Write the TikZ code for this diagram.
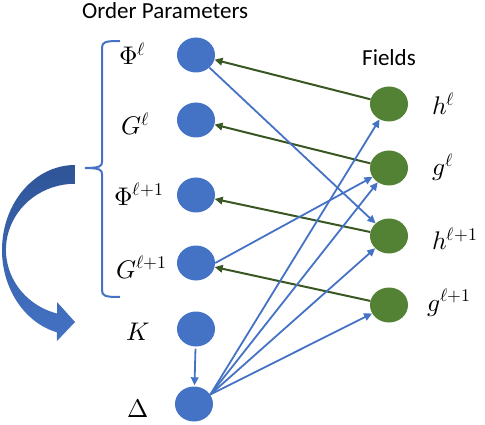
\documentclass[tikz,border=0pt]{standalone}
\usepackage{fontspec}
\usepackage{unicode-math}
\setmainfont{Carlito}
\setmathfont{Latin Modern Math}
\usetikzlibrary{arrows.meta,shapes.geometric}
\definecolor{nodeblue}{RGB}{68,114,196}
\definecolor{nodegreen}{RGB}{84,130,53}
\definecolor{linegreen}{RGB}{56,87,35}
\definecolor{darkblue}{RGB}{47,85,151}
\begin{document}
\begin{tikzpicture}[x=1pt,y=-1pt,
  opnode/.style={ellipse,fill=nodeblue,minimum width=38pt,minimum height=35pt,inner sep=0pt},
  fieldnode/.style={ellipse,fill=nodegreen,minimum width=38pt,minimum height=35pt,inner sep=0pt},
  mlabel/.style={font=\fontsize{25.5}{30}\selectfont,inner sep=0pt,anchor=base west},
  titletext/.style={font=\fontsize{23}{28}\selectfont,inner sep=0pt,anchor=base west},
  blueedge/.style={draw=nodeblue,line width=1.8pt,-{Triangle[length=8pt,width=7.5pt]}},
  greenedge/.style={draw=linegreen,line width=2pt,-{Triangle[length=8pt,width=7.5pt]}}]
\useasboundingbox (0,0) rectangle (485,425);

% titles
\node[titletext] (optitle) at (82,19) {Order Parameters};
\node[titletext] (fieldtitle) at (362,66) {Fields};

% order parameter nodes
\node[opnode] (P1) at (196,55) {};
\node[opnode] (G1) at (196,120) {};
\node[opnode] (P2) at (196,195) {};
\node[opnode] (G2) at (196,263) {};
\node[opnode] (K) at (196,329) {};
\node[opnode] (D) at (194,404) {};

% field nodes
\node[fieldnode] (h1) at (389,104) {};
\node[fieldnode] (g1) at (389,168) {};
\node[fieldnode] (h2) at (389,236) {};
\node[fieldnode] (g2) at (389,305) {};

% labels
\node[mlabel] (lP1) at (119,65) {$\Phi^{\ell}$};
\node[mlabel] (lG1) at (121,135) {$G^{\ell}$};
\node[mlabel] (lP2) at (114,205) {$\Phi^{\ell+1}$};
\node[mlabel] (lG2) at (116,278) {$G^{\ell+1}$};
\node[mlabel] (lK) at (126,340) {$K$};
\node[mlabel] (lD) at (127,417) {$\Delta$};
\node[mlabel] (lh1) at (432,115) {$h^{\ell}$};
\node[mlabel] (lg1) at (432,176) {$g^{\ell}$};
\node[mlabel] (lh2) at (432,250) {$h^{\ell+1}$};
\node[mlabel] (lg2) at (427,311) {$g^{\ell+1}$};

% brace
\draw[nodeblue,line width=2pt]
  (120,41) .. controls (105,41) and (102,42) .. (102,48) -- (102,162)
  .. controls (102,166) and (100,168) .. (85,168)
  .. controls (100,168) and (102,170) .. (102,174) -- (102,290)
  .. controls (102,296) and (105,297) .. (120,297);

% curved arrow
\shade[top color=darkblue,bottom color=nodeblue]
  (75,165) arc[start angle=270,end angle=104.3,x radius=73,y radius=85]
  -- (57,341) -- (75,322) -- (57,302) -- (57,313.5)
  arc[start angle=105.1,end angle=270,x radius=69,y radius=66] -- cycle;

% green connectors
\draw[greenedge] (h1) -- (P1);
\draw[greenedge] (g1) -- (G1);
\draw[greenedge] (h2) -- (P2);
\draw[greenedge] (g2) -- (G2);

% blue connectors
\draw[blueedge] (P1) -- (h2);
\draw[blueedge] (G2.east) -- (g1);
\draw[blueedge] (D.30) -- (h1);
\draw[blueedge] (D.30) -- (g1);
\draw[blueedge] (D.30) -- (h2);
\draw[blueedge] (D.30) -- (g2);
\draw[blueedge,shorten <=2pt,shorten >=1pt] (K) -- (D);
\end{tikzpicture}
\end{document}
